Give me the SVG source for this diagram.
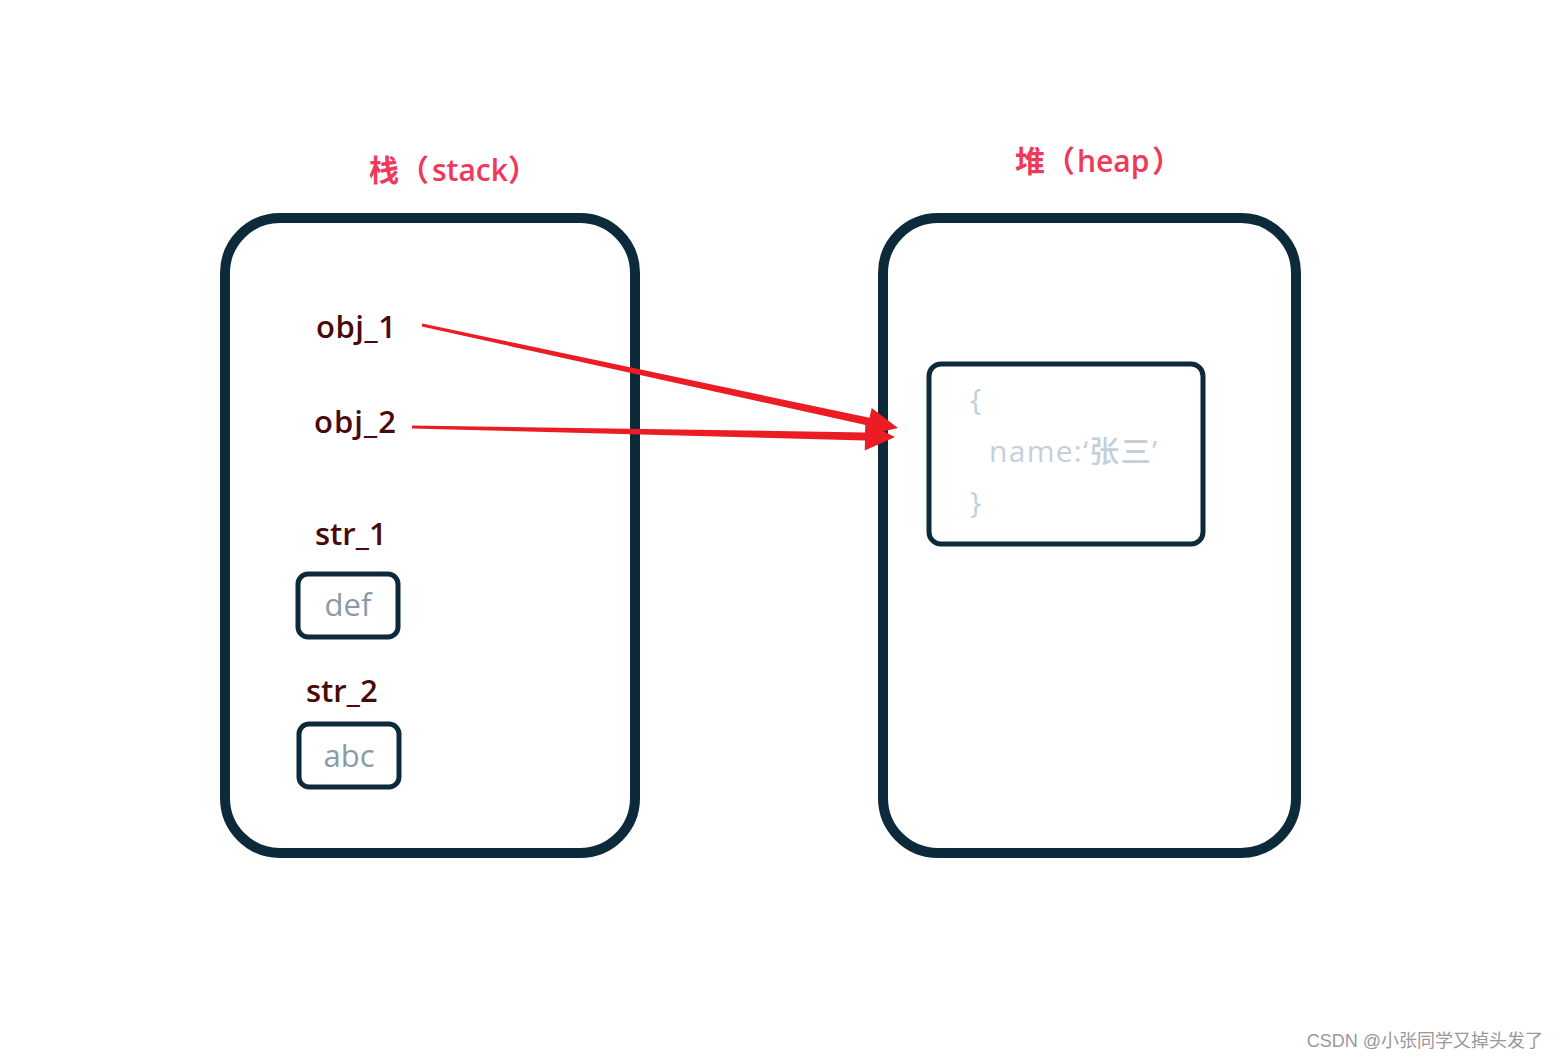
<svg xmlns="http://www.w3.org/2000/svg" width="1556" height="1060" viewBox="0 0 1556 1060">
<style>
.box{fill:none;stroke:#0c2a3a;stroke-width:10}
.sbox{fill:none;stroke:#0c2a3a;stroke-width:5}
.title{font-family:"Open Sans","Noto Sans CJK SC",sans-serif;font-size:30px;fill:#f0395a;font-weight:600}
.var{font-family:"Open Sans","Noto Sans",sans-serif;font-size:31px;fill:#4a0a0a;font-weight:600}
.val{font-family:"Open Sans",sans-serif;font-size:31px;fill:#8a9aaa;font-weight:500}
.obj{font-family:"Open Sans","Noto Sans CJK SC",sans-serif;font-size:30px;fill:#c4cfdb;font-weight:500}
.arr{fill:#ec1c24}
</style>
<rect width="1556" height="1060" fill="#fff"/>
<g id="stack">
<rect class="box" x="225" y="218" width="410" height="635" rx="55"/>
<text class="title" x="369" y="181"><tspan>栈（</tspan><tspan x="432">stack</tspan><tspan x="508">）</tspan></text>
</g>
<g id="heap">
<rect class="box" x="883" y="218" width="413" height="635" rx="55"/>
<text class="title" x="1015" y="172"><tspan>堆（</tspan><tspan x="1077">heap</tspan><tspan x="1152">）</tspan></text>
</g>
<g id="obj1"><text class="var" x="316" y="338" textLength="80">obj_1</text></g>
<g id="obj2"><text class="var" x="314" y="433" textLength="82">obj_2</text></g>
<g id="str1"><text class="var" x="315" y="545">str_1</text></g>
<g id="str1val"><rect class="sbox" x="298" y="574" width="100" height="63" rx="10"/><text class="val" x="348" y="616" text-anchor="middle">def</text></g>
<g id="str2"><text class="var" x="306" y="702">str_2</text></g>
<g id="str2val"><rect class="sbox" x="299" y="724" width="100" height="63" rx="10"/><text class="val" x="349" y="767" text-anchor="middle">abc</text></g>
<g id="heapobj">
<rect class="sbox" x="929" y="364" width="274" height="180" rx="12"/>
<text class="obj" x="970" y="410">{</text>
<text class="obj" x="989" y="462" textLength="168">name:‘张三’</text>
<text class="obj" x="970" y="513">}</text>
</g>
<g id="connectors">
<polygon class="arr" points="422.3,323.5 869.5,417.8 871.7,408 898,428 865.7,435.4 867.9,425.6 421.7,326.5"/>
<polygon class="arr" points="412,425.5 865,432.4 865.3,422.4 895,437 864.7,450.4 865,440.4 412,428.5"/>
</g>
<text x="1543" y="1047" text-anchor="end" font-family="'Liberation Sans','Noto Sans CJK SC',sans-serif" font-size="18" fill="#999">CSDN @小张同学又掉头发了</text>
</svg>
